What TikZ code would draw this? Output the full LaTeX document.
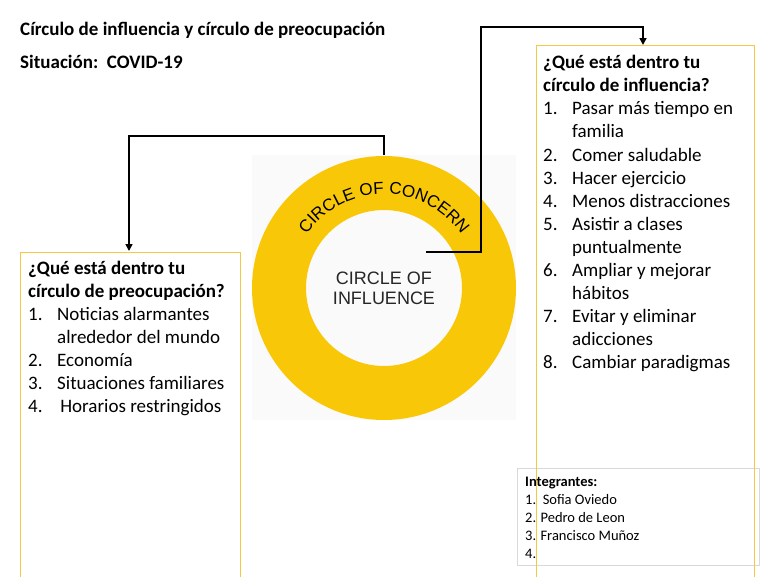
\documentclass[tikz,border=0pt]{standalone}
\usepackage{fontspec}
\setmainfont{Carlito}
\newfontfamily\arialf{Liberation Sans}
\usetikzlibrary{decorations.text,arrows.meta}
\definecolor{ygold}{HTML}{F8C808}
\definecolor{boxy}{HTML}{F4C842}
\begin{document}
\begin{tikzpicture}[x=1pt,y=-1pt,
 t/.style={anchor=base west,inner sep=0pt,font=\fontsize{19}{20}\selectfont},
 tb/.style={t,font=\fontsize{19}{20}\selectfont\bfseries},
 s/.style={anchor=base west,inner sep=0pt,font=\fontsize{14.5}{16}\selectfont},
 conn/.style={line width=1.6pt,black},
 ybox/.style={draw=boxy,line width=0.8pt}]
\useasboundingbox (0,0) rectangle (768,576);
\fill[white] (0,0) rectangle (768,576);
\fill[black!2] (252,155) rectangle (516,420);
\fill[ygold,even odd rule] (384,288) circle (132) (384,288) circle (78);
\node[font=\arialf\fontsize{18}{20}\selectfont,align=center,text=black!85] (inf) at (384,288) {CIRCLE OF\\INFLUENCE};
\path[decorate,decoration={text along path,text align=center,
 text={|\arialf\fontsize{17}{19}\selectfont|CIRCLE OF CONCERN}}] (384,288) ++(-160:94) arc[start angle=-160,end angle=-20,radius=94];
% boxes
\draw[ybox] (20,252) -- (20,577) (20,252) -- (240,252) -- (240,577);
\draw[ybox] (536,577) -- (536,45) -- (754,45) -- (754,577);
\node[tb] at (20,35) {Círculo de influencia y círculo de preocupación};
\node[tb] at (20,68) {Situación:\ \ COVID-19};
% connectors
\coordinate (c1) at (384,155);
\coordinate (c2) at (426,252);
\coordinate (lt) at (129,251);
\coordinate (rt) at (643,45);
\draw[conn,-{Triangle[length=7pt,width=7pt]}] (c1) -- (384,136) -- (129,136) -- (lt);
\draw[conn,-{Triangle[length=7pt,width=7pt]}] (c2) -- (481,252) -- (481,27) -- (643,27) -- (rt);
% left text
\node[tb] at (28,274) {¿Qué está dentro tu};
\node[tb] at (28,297) {círculo de preocupación?};
\foreach \y/\n/\tx in {320/1./Noticias alarmantes,343//alrededor del mundo,366/2./Economía,389/3./Situaciones familiares,412/4./\,Horarios restringidos}{
 \node[t] at (28,\y) {\n};
 \node[t] at (57,\y) {\tx};}
% right text
\node[tb] at (543,68) {¿Qué está dentro tu};
\node[tb] at (543,91) {círculo de influencia?};
\foreach \y/\n/\tx in {114/1./Pasar más tiempo en,137//familia,161/2./Comer saludable,184/3./Hacer ejercicio,207/4./Menos distracciones,230/5./Asistir a clases,253//puntualmente,276/6./Ampliar y mejorar,299//hábitos,322/7./Evitar y eliminar,345//adicciones,368/8./Cambiar paradigmas}{
 \node[t] at (543,\y) {\n};
 \node[t] at (572,\y) {\tx};}
% integrantes
\draw[black!15,fill=white,line width=0.6pt] (517,468) rectangle (759,565);
\draw[ybox] (536,468) -- (536,577) (754,468) -- (754,577);
\node[s,font=\fontsize{14.5}{16}\selectfont\bfseries] at (525,486) {Integrantes:};
\node[s] at (525,504) {1.\ \ Sofia Oviedo};
\node[s] at (525,522) {2. Pedro de Leon};
\node[s] at (525,540) {3. Francisco Muñoz};
\node[s] at (525,558) {4.};
\end{tikzpicture}
\end{document}
